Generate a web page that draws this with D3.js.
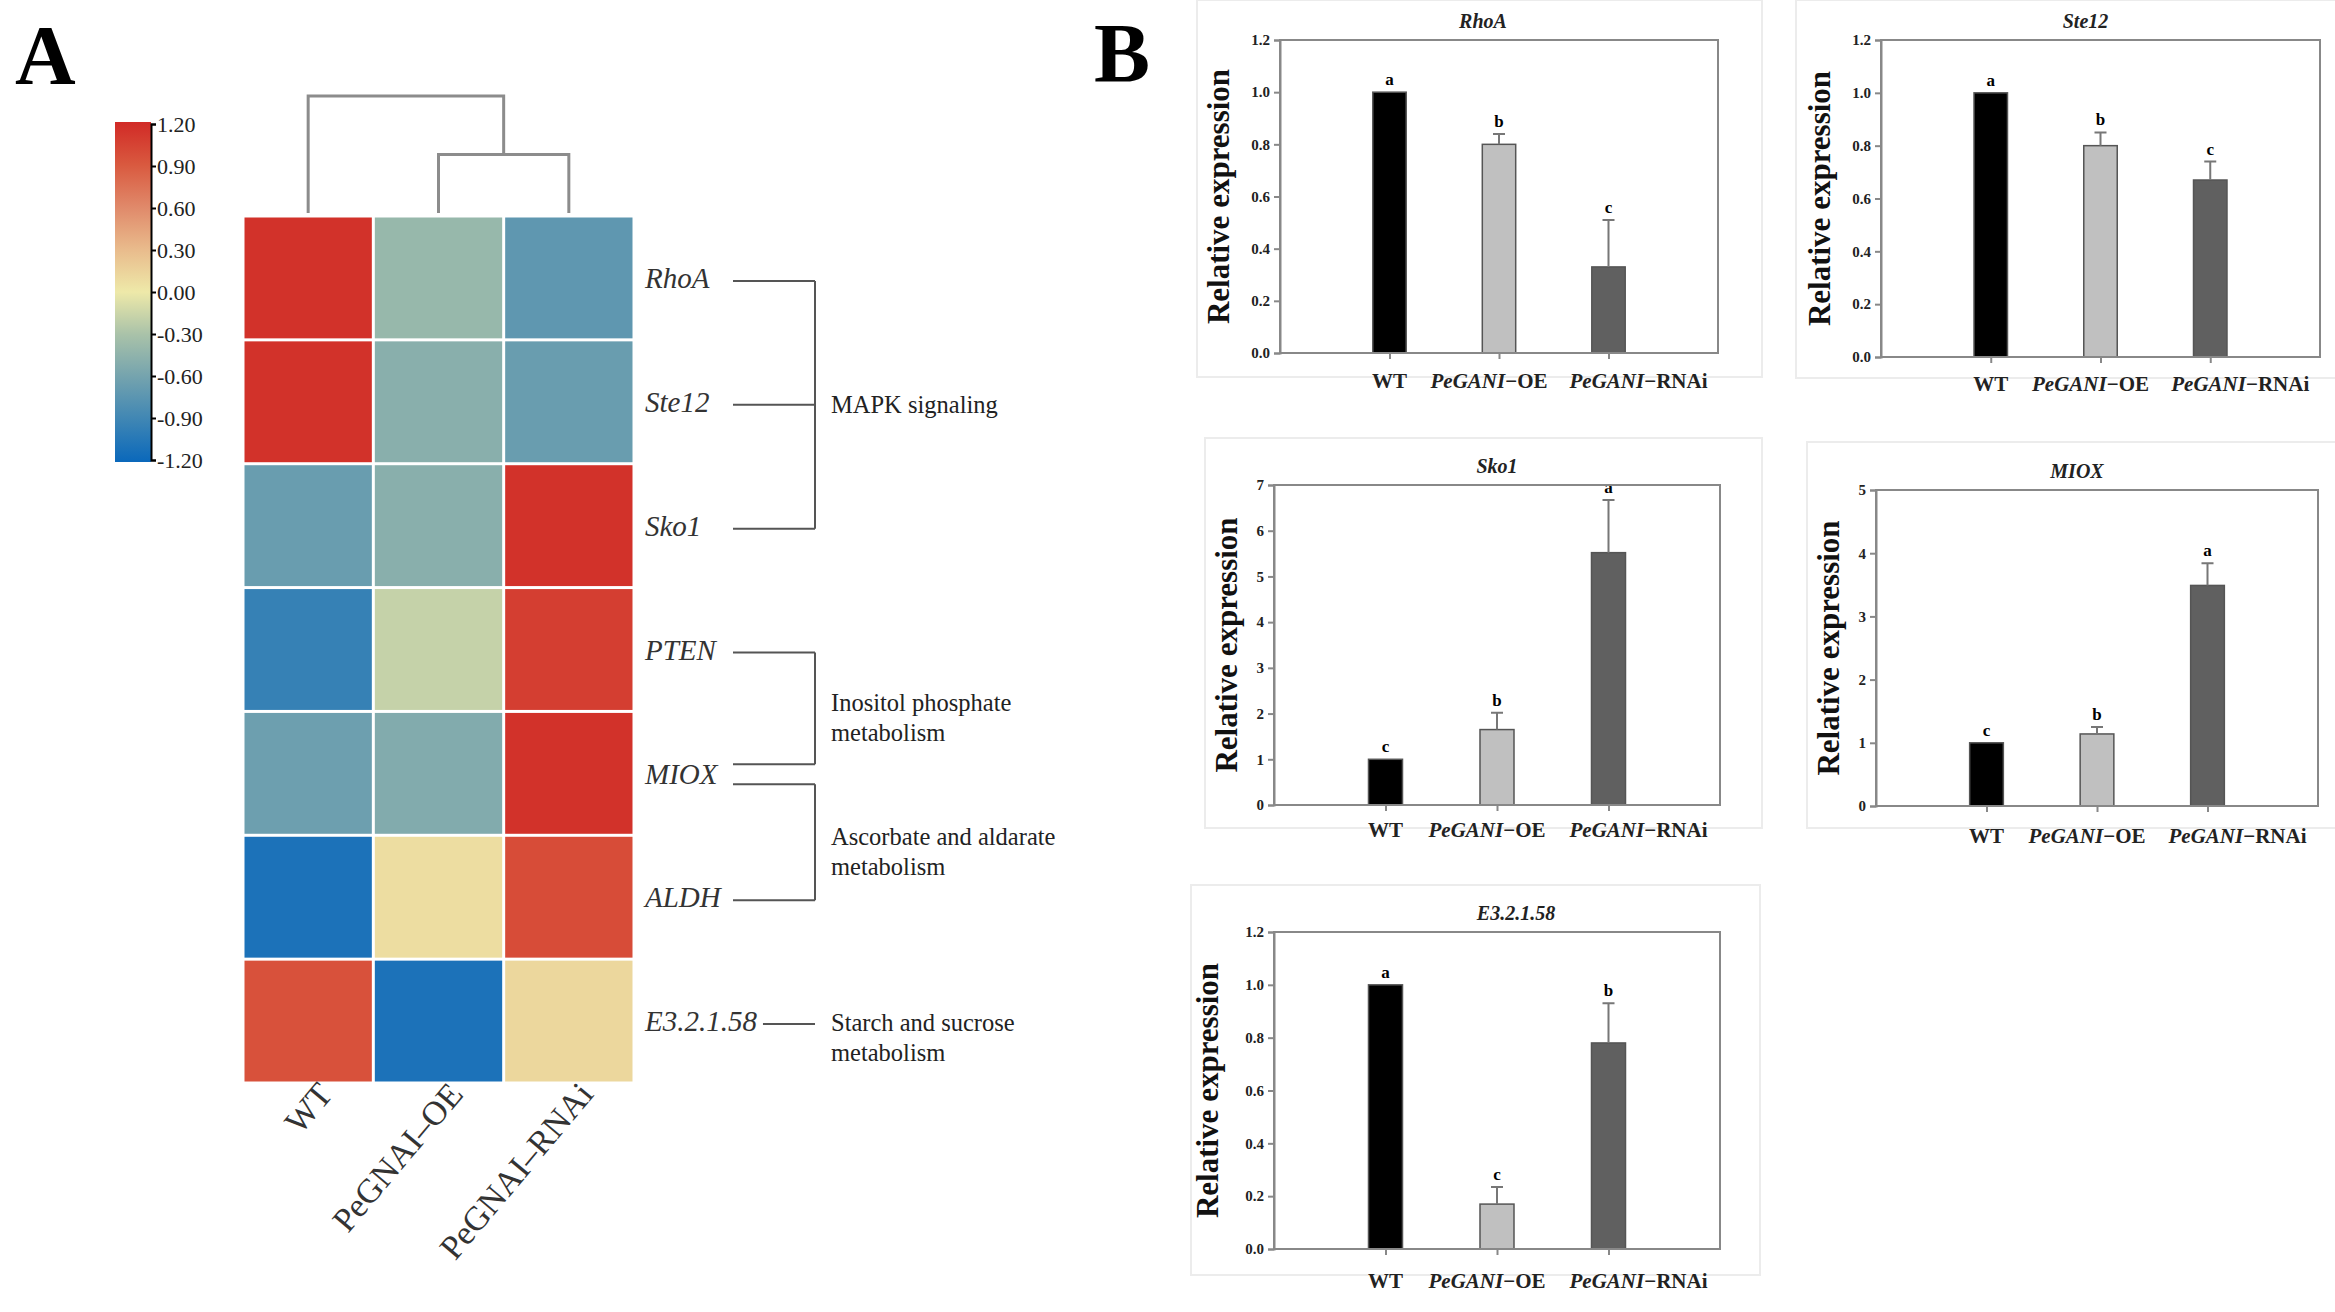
<!DOCTYPE html>
<html>
<head>
<meta charset="utf-8">
<script src="https://cdn.jsdelivr.net/npm/d3@7"></script>
<style>
  body { margin: 0; background: #fff; }
  svg { display: block; font-family: "Liberation Serif", "Times New Roman", serif; }
</style>
</head>
<body>
<svg id="fig" width="2335" height="1312"></svg>
<script>
// ---- panel A: heatmap data ----
const hmGenes = ["RhoA", "Ste12", "Sko1", "PTEN", "MIOX", "ALDH", "E3.2.1.58"];
const hmSamples = ["WT", "PeGNAI\u2013OE", "PeGNAI\u2013RNAi"];
const hmValues = [
  [1.15, -0.40, -0.72],
  [1.15, -0.48, -0.66],
  [-0.66, -0.48, 1.15],
  [-0.95, -0.18, 1.07],
  [-0.64, -0.52, 1.15],
  [-1.10, 0.08, 0.98],
  [0.95, -1.10, 0.12]
];
const scaleTicks = [1.2, 0.9, 0.6, 0.3, 0, -0.3, -0.6, -0.9, -1.2];
const scaleColors = ["#d12a26", "#d9593f", "#e0896a", "#e9bb8c", "#eee9a9", "#a9c2a9", "#74a3ae", "#3f86b4", "#0a68bb"];
// column dendrogram: root joins WT with (OE, RNAi)
const dendroHeights = [1.0, 0.5];
const pathwayNames = [["MAPK signaling"], ["Inositol phosphate", "metabolism"], ["Ascorbate and aldarate", "metabolism"], ["Starch and sucrose", "metabolism"]];
const pathwayGenes = [["RhoA", "Ste12", "Sko1"], ["PTEN", "MIOX"], ["MIOX", "ALDH"], ["E3.2.1.58"]];

// ---- panel B: qPCR bars ----
const barGene = ["", "PeGANI", "PeGANI"];
const barSuffix = ["WT", "\u2212OE", "\u2212RNAi"];
const barFills = ["#000000", "#c0c0c0", "#606060"];

const rhoaMean = [1.0, 0.80, 0.33], rhoaErr = [0, 0.04, 0.18], rhoaSig = ["a", "b", "c"];
const ste12Mean = [1.0, 0.80, 0.67], ste12Err = [0, 0.05, 0.07], ste12Sig = ["a", "b", "c"];
const sko1Mean = [1.0, 1.65, 5.52], sko1Err = [0, 0.37, 1.15], sko1Sig = ["c", "b", "a"];
const mioxMean = [1.0, 1.14, 3.49], mioxErr = [0, 0.11, 0.35], mioxSig = ["c", "b", "a"];
const e3Mean = [1.0, 0.17, 0.78], e3Err = [0, 0.065, 0.15], e3Sig = ["a", "c", "b"];

const panels = [
  { title: "RhoA", mean: rhoaMean, err: rhoaErr, sig: rhoaSig, yMax: 1.2, yStep: 0.2, dec: 1 },
  { title: "Ste12", mean: ste12Mean, err: ste12Err, sig: ste12Sig, yMax: 1.2, yStep: 0.2, dec: 1 },
  { title: "Sko1", mean: sko1Mean, err: sko1Err, sig: sko1Sig, yMax: 7, yStep: 1, dec: 0 },
  { title: "MIOX", mean: mioxMean, err: mioxErr, sig: mioxSig, yMax: 5, yStep: 1, dec: 0 },
  { title: "E3.2.1.58", mean: e3Mean, err: e3Err, sig: e3Sig, yMax: 1.2, yStep: 0.2, dec: 1 }
];
// plot boxes (pixels) for each small chart
const boxes = [
  { x0: 1280, x1: 1718, y0: 40, y1: 353, ylab: 62, xlab: 35, tdx: -16, fx: 1197, fy: 0, fw: 565, fh: 377 },
  { x0: 1881, x1: 2320, y0: 40, y1: 357, ylab: 62, xlab: 34, tdx: -15, fx: 1796, fy: 0, fw: 560, fh: 378 },
  { x0: 1274, x1: 1720, y0: 485, y1: 805, ylab: 48, xlab: 32, tdx: 0, fx: 1205, fy: 438, fw: 557, fh: 390 },
  { x0: 1876, x1: 2318, y0: 490, y1: 806, ylab: 48, xlab: 37, tdx: -20, fx: 1807, fy: 442, fw: 540, fh: 386 },
  { x0: 1274, x1: 1720, y0: 932, y1: 1249, ylab: 67, xlab: 39, tdx: 19, fx: 1191, fy: 885, fw: 569, fh: 390 }
];
const xLabShift = [0, -10, 30];

const svg = d3.select("#fig");

// ================= Panel A =================
svg.append("text").attr("x", 15).attr("y", 84)
  .attr("font-size", 84).attr("font-weight", "bold").text("A");

const hx = d3.scaleBand().domain(hmSamples).range([243, 634]);
const hy = d3.scaleBand().domain(hmGenes).range([216, 1083]);
const color = d3.scaleLinear().domain(scaleTicks).range(scaleColors);

const cells = [];
hmGenes.forEach((g, i) => hmSamples.forEach((s, j) => cells.push({ g, s, v: hmValues[i][j] })));

svg.append("g").selectAll("rect").data(cells).enter().append("rect")
  .attr("x", d => hx(d.s) + 1.5)
  .attr("y", d => hy(d.g) + 1.5)
  .attr("width", hx.bandwidth() - 3)
  .attr("height", hy.bandwidth() - 3)
  .attr("fill", d => color(d.v));

// dendrogram
const cx = s => hx(s) + hx.bandwidth() / 2;
const yd = d3.scaleLinear().domain([0, 1]).range([213, 96]);
const xm = (cx(hmSamples[1]) + cx(hmSamples[2])) / 2;
const dendro = svg.append("g").attr("fill", "none").attr("stroke", "#8c8c8c").attr("stroke-width", 3);
dendro.append("path").attr("d",
  "M" + cx(hmSamples[1]) + "," + yd(0) + "V" + yd(dendroHeights[1]) + "H" + cx(hmSamples[2]) + "V" + yd(0));
dendro.append("path").attr("d",
  "M" + cx(hmSamples[0]) + "," + yd(0) + "V" + yd(dendroHeights[0]) + "H" + xm + "V" + yd(dendroHeights[1]));

// colour bar
const cbY = d3.scaleLinear().domain([-1.2, 1.2]).range([460, 124]);
const grad = svg.append("defs").append("linearGradient").attr("id", "cbgrad")
  .attr("x1", 0).attr("y1", 0).attr("x2", 0).attr("y2", 1);
scaleTicks.forEach((t, i) => grad.append("stop")
  .attr("offset", (i / (scaleTicks.length - 1)))
  .attr("stop-color", scaleColors[i]));
svg.append("rect").attr("x", 115).attr("y", 122).attr("width", 36).attr("height", 340)
  .attr("fill", "url(#cbgrad)");
const cbAxis = svg.append("g").attr("transform", "translate(151,0)")
  .call(d3.axisRight(cbY).tickValues(scaleTicks).tickFormat(d => d.toFixed(2)).tickSize(5).tickPadding(1));
cbAxis.attr("font-family", null);
cbAxis.select(".domain").attr("stroke", "#000").attr("stroke-width", 2);
cbAxis.selectAll(".tick line").attr("stroke", "#000").attr("stroke-width", 2);
cbAxis.selectAll("text").attr("font-size", 22).attr("fill", "#222");

// row labels
const rowLab = svg.append("g").selectAll("text").data(hmGenes).enter().append("text")
  .attr("x", 645).attr("y", d => hy(d) + hy.bandwidth() / 2).attr("dy", "0.35em")
  .attr("font-size", 29).attr("font-style", "italic").attr("fill", "#333").text(d => d);
const labEnd = {};
rowLab.each(function (d) { labEnd[d] = 645 + this.getComputedTextLength(); });

// column labels
svg.append("g").selectAll("text").data(hmSamples).enter().append("text")
  .attr("transform", d => "translate(" + (cx(d) + 26) + "," + (1083 + 12) + ") rotate(-50)")
  .attr("text-anchor", "end").attr("font-size", 34).attr("fill", "#333").text(d => d);

// pathway brackets
const brX = 815;
const counts = {};
pathwayGenes.flat().forEach(g => counts[g] = (counts[g] || 0) + 1);
const br = svg.append("g");
pathwayGenes.forEach((genes, k) => {
  const ys = genes.map((g, i) => {
    let off = 3;
    if (counts[g] > 1) off = (i === genes.length - 1) ? -9 : 11;
    return hy(g) + hy.bandwidth() / 2 + off;
  });
  const lines = genes.map((g, i) => "M" + Math.max(733, labEnd[g] + 6) + "," + ys[i] + "H" + brX);
  let d = lines.join("");
  if (genes.length > 1) d += "M" + brX + "," + ys[0] + "V" + ys[ys.length - 1];
  br.append("path").attr("d", d).attr("fill", "none").attr("stroke", "#555").attr("stroke-width", 2);
  const top = genes.length > 1 ? (ys[0] + ys[ys.length - 1]) / 2 - (pathwayNames[k].length - 1) * 6 : ys[0] - 2;
  pathwayNames[k].forEach((t, i) => br.append("text")
    .attr("x", 831).attr("y", top + i * 30).attr("dy", "0.35em")
    .attr("font-size", 24.5).attr("fill", "#222").text(t));
});

// ================= Panel B =================
svg.append("text").attr("x", 1094).attr("y", 82)
  .attr("font-size", 84).attr("font-weight", "bold").text("B");

panels.forEach((p, k) => {
  const b = boxes[k];
  const g = svg.append("g");
  const xs = d3.scaleLinear().domain([0, 4]).range([b.x0, b.x1]);
  const ys = d3.scaleLinear().domain([0, p.yMax]).range([b.y1, b.y0]);
  const step = xs(2) - xs(1);
  const bw = step * 0.305;

  // faint panel outline
  g.append("rect").attr("x", b.fx).attr("y", b.fy).attr("width", b.fw).attr("height", b.fh)
    .attr("fill", "none").attr("stroke", "#ececec").attr("stroke-width", 2);

  // bars
  g.selectAll(".bar").data(p.mean).enter().append("rect")
    .attr("x", (d, i) => xs(i + 1) - bw / 2)
    .attr("y", d => ys(d))
    .attr("width", bw)
    .attr("height", d => ys(0) - ys(d))
    .attr("fill", (d, i) => barFills[i])
    .attr("stroke", "#555").attr("stroke-width", 1.5);

  // error bars (upper only) and significance letters
  p.mean.forEach((m, i) => {
    if (p.err[i] > 0) {
      const x = xs(i + 1), yt = ys(m + p.err[i]);
      g.append("path").attr("d", "M" + x + "," + ys(m) + "V" + yt + "M" + (x - 6) + "," + yt + "H" + (x + 6))
        .attr("stroke", "#777").attr("stroke-width", 2).attr("fill", "none");
    }
    g.append("text").attr("x", xs(i + 1)).attr("y", ys(m + p.err[i]) - 7)
      .attr("text-anchor", "middle").attr("font-size", 17).attr("font-weight", "bold")
      .text(p.sig[i]);
  });

  // frame
  g.append("rect").attr("x", b.x0).attr("y", b.y0).attr("width", b.x1 - b.x0).attr("height", b.y1 - b.y0)
    .attr("fill", "none").attr("stroke", "#888").attr("stroke-width", 2);

  // y axis
  const ticks = d3.range(0, p.yMax + 1e-9, p.yStep);
  const ya = g.append("g").attr("transform", "translate(" + b.x0 + ",0)")
    .call(d3.axisLeft(ys).tickValues(ticks).tickFormat(d => d.toFixed(p.dec)).tickSize(6).tickPadding(4));
  ya.attr("font-family", null);
  ya.select(".domain").attr("stroke", "#888").attr("stroke-width", 2);
  ya.selectAll(".tick line").attr("stroke", "#888").attr("stroke-width", 2);
  ya.selectAll("text").attr("font-size", 15).attr("font-weight", "bold").attr("fill", "#222");

  // bottom ticks at bar centres
  const xa = g.append("g").attr("transform", "translate(0," + b.y1 + ")")
    .call(d3.axisBottom(xs).tickValues([1, 2, 3]).tickFormat("").tickSize(6));
  xa.select(".domain").remove();
  xa.selectAll(".tick line").attr("stroke", "#888").attr("stroke-width", 2);

  // x labels
  barSuffix.forEach((s, i) => {
    const t = g.append("text").attr("x", xs(i + 1) + xLabShift[i]).attr("y", b.y1 + b.xlab)
      .attr("text-anchor", "middle").attr("font-size", 21).attr("font-weight", "bold").attr("fill", "#222");
    if (barGene[i]) t.append("tspan").attr("font-style", "italic").text(barGene[i]);
    t.append("tspan").text(s);
  });

  // y title
  g.append("text")
    .attr("transform", "translate(" + (b.x0 - b.ylab + 11) + "," + ((b.y0 + b.y1) / 2) + ") rotate(-90)")
    .attr("text-anchor", "middle").attr("font-size", 31).attr("font-weight", "bold").attr("fill", "#111")
    .text("Relative expression");

  // gene title
  g.append("text").attr("x", (b.x0 + b.x1) / 2 + b.tdx).attr("y", b.y0 - 12)
    .attr("text-anchor", "middle").attr("font-size", 20).attr("font-weight", "bold").attr("font-style", "italic")
    .attr("fill", "#222").text(p.title);
});
</script>
</body>
</html>
